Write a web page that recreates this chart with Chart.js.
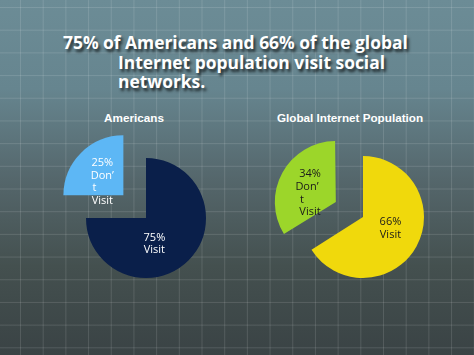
<!DOCTYPE html>
<html><head><meta charset="utf-8">
<script src="https://cdn.jsdelivr.net/npm/chart.js@4"></script>
<style>
html,body{margin:0;padding:0}
body{width:474px;height:355px;overflow:hidden;position:relative;
background-color:#4a5759;
background-image:
 linear-gradient(to right, rgba(255,255,255,0.12) 1px, transparent 1px),
 linear-gradient(to bottom, rgba(255,255,255,0.12) 1px, transparent 1px),
 linear-gradient(to bottom, #6c8c96 0%, #66858f 25%, #55676c 50%, #44504f 75%, #3a4345 100%);
background-size:22.7px 22.7px,22.7px 22.7px,100% 100%;
background-position:20px 7px,20px 7px,0 0;}
#title{position:absolute;left:118px;top:33px;width:320px;font:700 17.4px/19.5px "Open Sans",sans-serif;color:#fff;text-indent:-55px;text-shadow:2px 3px 3px rgba(0,0,0,.7);white-space:nowrap}
.ct{position:absolute;top:111px;transform:translateX(-50%);font:700 11.7px/13px "Liberation Sans",Arial,sans-serif;color:#fff;white-space:nowrap}
canvas{position:absolute}
</style></head>
<body>
<div id="title">75% of Americans and 66% of the global<br>Internet population visit social<br>networks.</div>
<div class="ct" style="left:134px">Americans</div>
<div class="ct" style="left:350px">Global Internet Population</div>
<canvas id="c1" width="200" height="200" style="left:46px;top:118px"></canvas>
<canvas id="c2" width="200" height="200" style="left:263px;top:117px"></canvas>
<script>
const categories = ['Visit', 'Don\u2019t Visit'];
const americansValues = [75, 25];
const globalValues = [66, 34];
const wrappedNames = [['Visit'], ['Don\u2019', 't', 'Visit']];
const americansColors = ['#0a1f4a', '#5db7f5'];
const globalColors = ['#f0d90c', '#9cd62a'];

const sliceLabels = {
  id: 'sliceLabels',
  afterDatasetsUpdate(chart) {
    const meta = chart.getDatasetMeta(0);
    meta.data.forEach(arc => {
      const o = (arc.options.offset || 0) / 4;
      const fix = 1 - Math.sin(Math.min(Math.PI, arc.circumference || 0));
      arc.outerRadius = arc.outerRadius - o * fix;
    });
  },
  afterDatasetsDraw(chart, args, opts) {
    const ctx = chart.ctx;
    const meta = chart.getDatasetMeta(0);
    const ds = chart.data.datasets[0];
    ctx.save();
    ctx.font = '11px "Open Sans", sans-serif';
    ctx.textAlign = 'center';
    ctx.textBaseline = 'middle';
    ctx.fillStyle = opts.color;
    meta.data.forEach((arc, i) => {
      const o = (arc.options.offset || 0) / 4;
      const mid = (arc.startAngle + arc.endAngle) / 2;
      const r = arc.outerRadius;
      const cx = arc.x + Math.cos(mid) * o + opts.place[i][0] * r;
      const cy = arc.y + Math.sin(mid) * o + opts.place[i][1] * r;
      const lines = [ds.data[i] + '%'].concat(wrappedNames[i]);
      const lh = opts.lineHeight;
      const shifts = opts.shifts[i] || [];
      lines.forEach((t, k) => {
        ctx.fillText(t, cx + (shifts[k] || 0), cy + (k - (lines.length - 1) / 2) * lh);
      });
    });
    ctx.restore();
  }
};

function makePie(id, values, colors, radius, offsets, labelOpts) {
  new Chart(document.getElementById(id), {
    type: 'pie',
    data: { labels: categories, datasets: [{ data: values, backgroundColor: colors, borderWidth: 0, offset: offsets }] },
    options: {
      responsive: false, animation: false, radius: radius,
      layout: { padding: 0 },
      plugins: { legend: { display: false }, tooltip: { enabled: false }, title: { display: false }, sliceLabels: labelOpts }
    },
    plugins: [sliceLabels]
  });
}

makePie('c1', americansValues, americansColors, 60, [0, 128],
  { color: '#ffffff', lineHeight: 12.4, place: [[0.14, 0.43], [-0.35, -0.225]], shifts: [[], [0, 0, -8, 0]] });
makePie('c2', globalValues, globalColors, 61, [0, 124],
  { color: '#1a1a1a', lineHeight: 12.7, place: [[0.45, 0.19], [-0.46, -0.16]], shifts: [[], [0, -3, -8, 0]] });
</script>
</body></html>
